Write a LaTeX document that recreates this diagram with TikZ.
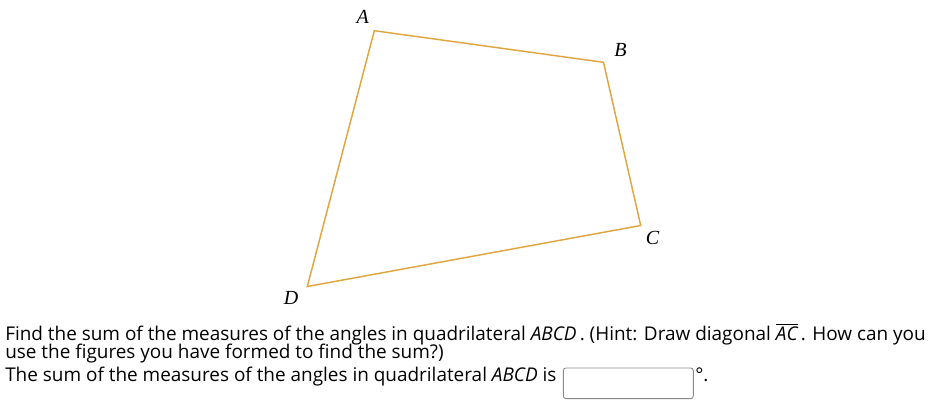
\documentclass[tikz,border=0pt]{standalone}
\usepackage{fontspec}
\setmainfont{Open Sans}
\newfontfamily\lblfont{Liberation Serif}
\definecolor{edgegold}{HTML}{DFA640}
\definecolor{boxgray}{HTML}{8A8A8A}
\begin{document}
\begin{tikzpicture}[x=0.75pt,y=-0.75pt,
  vertex/.style={inner sep=0pt, font=\lblfont\itshape\fontsize{15}{18}\selectfont},
  side/.style={draw=edgegold, line width=1.1pt, line join=miter},
  txt/.style={inner sep=0pt, anchor=base west, font=\fontsize{14.2}{17}\selectfont},
  answerbox/.style={draw=boxgray, line width=0.7pt, rounded corners=2pt, minimum width=97.5pt, minimum height=23pt, inner sep=0pt}]
\useasboundingbox (0,0) rectangle (928,405);
\coordinate (A) at (374.3,30.7);
\coordinate (B) at (603.5,62.3);
\coordinate (C) at (640.7,225.5);
\coordinate (D) at (307.3,286.5);
\draw[side] (A) -- (B) -- (C) -- (D) -- cycle;
\node[vertex] (la) at (362.7,17) {A};
\node[vertex] (lb) at (620.5,49.5) {B};
\node[vertex] (lc) at (652.5,237.5) {C};
\node[vertex] (ld) at (291,298) {D};
\node[txt] (t1) at (5,340) {Find the sum of the measures of the angles in quadrilateral \textit{ABCD}\,. (Hint: Draw diagonal $\overline{\hbox{\itshape AC}}$\,. How can you};
\node[txt] (t2) at (5,358) {use the figures you have formed to find the sum?)};
\node[txt] (t3) at (5,381) {The sum of the measures of the angles in quadrilateral \textit{ABCD} is};
\node[answerbox] (box) at (628.3,383.3) {};
\node[txt] (deg) at (695,381) {°.};
\end{tikzpicture}
\end{document}
